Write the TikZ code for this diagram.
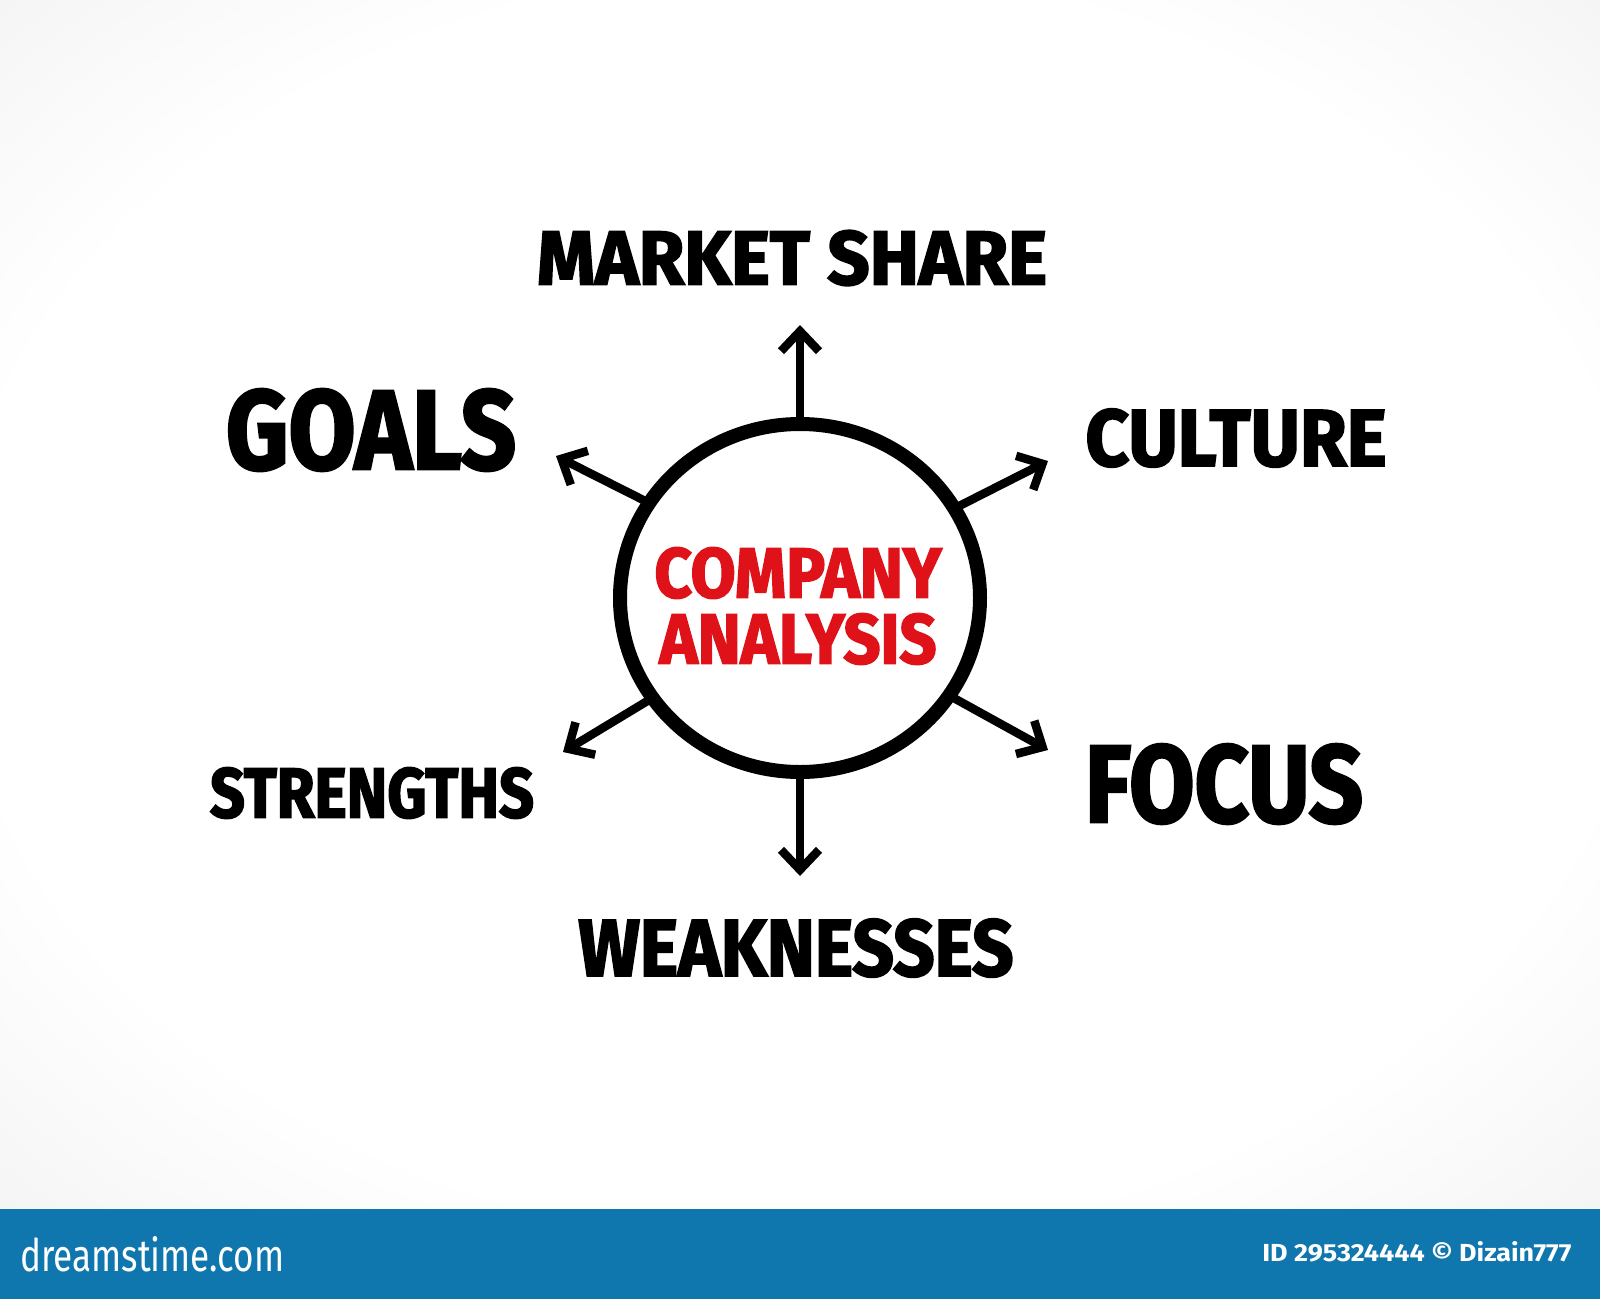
\documentclass[tikz,border=0pt]{standalone}
\usepackage{fontspec}
\setmainfont{Fira Sans}
\newfontfamily\mk{Fira Sans}[FakeBold=2.5]
\usetikzlibrary{shapes.geometric,arrows.meta}
\newdimen\pxu \pxu=0.02cm
\newcommand\fitbox[3]{\resizebox{#1\pxu}{#2\pxu}{#3}}
\definecolor{barblue}{RGB}{16,118,174}
\definecolor{cred}{RGB}{222,18,24}
\pgfdeclareradialshading{vign}{\pgfpoint{0bp}{0bp}}{color(0bp)=(white); color(26bp)=(white); color(50bp)=(black!10); color(72bp)=(black!16)}
\begin{document}
\begin{tikzpicture}[x=0.02cm,y=-0.02cm,
  lbl/.style={inner sep=0pt, text=black, font=\mk\bfseries},
  redlbl/.style={lbl, text=cred},
  arr/.style={line width=1.7mm, line cap=round, line join=round,
    -{Straight Barb[length=4mm,width=7.6mm,line width=1.7mm]}},
  hub/.style={ellipse, draw, line width=2.8mm, minimum width=360\pxu, minimum height=348\pxu, inner sep=0pt, fill=white}]
\useasboundingbox (0,0) rectangle (1600,1299);
\shade[shading=vign] (0,0) rectangle (1600,1209);
\fill[barblue] (0,1209) rectangle (1600,1299);

\node[hub] (c) at (800,598) {};
\node[redlbl] (comp) at (798,573) {\fitbox{287}{50}{COMPANY}};
\node[redlbl] (anal) at (798,639) {\fitbox{277}{50}{ANALYSIS}};

\node[lbl] (ms) at (792,258) {\fitbox{510}{54}{MARKET SHARE}};
\node[lbl] (goals) at (371,430) {\fitbox{290}{80}{GOALS}};
\node[lbl] (cult) at (1236,438) {\fitbox{301}{57}{CULTURE}};
\node[lbl] (str) at (372,793) {\fitbox{324}{50}{STRENGTHS}};
\node[lbl] (focus) at (1224,784) {\fitbox{278}{78}{FOCUS}};
\node[lbl] (weak) at (796,948) {\fitbox{435}{57}{WEAKNESSES}};

\coordinate (tU) at (800,325);
\coordinate (tD) at (800,876);
\coordinate (tUL) at (556,456);
\coordinate (tUR) at (1048,461);
\coordinate (tLL) at (563,752);
\coordinate (tLR) at (1048,750);

\draw[arr] (c.90) -- (tU);
\draw[arr] (c.270) -- (tD);
\draw[arr] (c.148) -- (tUL);
\draw[arr] (c.30) -- (tUR);
\draw[arr] (c.214) -- (tLL);
\draw[arr] (c.327) -- (tLR);

\node[inner sep=0pt, text=white, anchor=south west] (dm) at (20,1272) {\fitbox{264}{35}{dreamstime.com}};
\node[inner sep=0pt, text=white, anchor=south west] (id) at (1262,1263) {\fitbox{309}{20}{\bfseries ID 295324444 © Dizain777}};
\end{tikzpicture}
\end{document}
